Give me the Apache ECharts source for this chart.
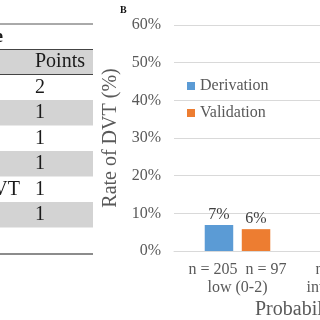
<!DOCTYPE html>
<html>
<head>
<meta charset="utf-8">
<script src="https://cdn.jsdelivr.net/npm/echarts@6/dist/echarts.min.js"></script>
<style>
	html, body { margin: 0; padding: 0; background: #fff; }
	#rate_chart { width: 320px; height: 320px; }
</style>
</head>
<body>
<div id="rate_chart"></div>
<script>
/* values */
var categories = ['low (0-2)', 'intermediate (3-6)', 'high (≥7)'];
var nDerivation = [205, 150, 60];
var nValidation = [97, 80, 30];
var rateDerivation = [6.9, null, null];
var rateValidation = [5.8, null, null];
var yTicks = [0, 10, 20, 30, 40, 50, 60];

/* table A (mostly cut off on the left) */
var tableTitle = 'Wells score';
var tableHeader = 'Points';
var tableRowLabels = ['', '', '', '', 'Previous DVT', ''];
var tablePoints = [2, 1, 1, 1, 1, 1];

(function(){
	var serif = 'Liberation Serif';
	var myChart = echarts.init(document.getElementById('rate_chart'));

	// table drawn with graphic elements
	var g = [];
	var rowTop = 74.5, rowH = 25.5;
	g.push({type:'rect', shape:{x:-5, y:50, width:98, height:24.5}, style:{fill:'#d3d3d3'}, silent:true});
	for (var i = 0; i < tablePoints.length; i++) {
		var y0 = rowTop + i * rowH;
		if (i % 2 === 1) {
			g.push({type:'rect', shape:{x:-5, y:y0, width:98, height:rowH}, style:{fill:'#d3d3d3'}, silent:true});
		}
		g.push({type:'text', x:40, y:y0 + rowH / 2, style:{text:String(tablePoints[i]), font:'20px ' + serif, fill:'#1a1a1a', align:'center', verticalAlign:'middle'}});
		if (tableRowLabels[i]) {
			g.push({type:'text', x:20, y:y0 + rowH / 2, style:{text:tableRowLabels[i], font:'20px ' + serif, fill:'#1a1a1a', align:'right', verticalAlign:'middle'}});
		}
	}
	g.push({type:'text', x:3, y:37, style:{text:tableTitle, font:'bold 18px ' + serif, fill:'#1a1a1a', align:'right', verticalAlign:'middle'}});
	g.push({type:'text', x:35, y:62, style:{text:tableHeader, font:'20px ' + serif, fill:'#1a1a1a', align:'left', verticalAlign:'middle'}});
	g.push({type:'line', shape:{x1:-5, y1:24, x2:93, y2:24}, style:{stroke:'#555', lineWidth:1}});
	g.push({type:'line', shape:{x1:-5, y1:49.5, x2:93, y2:49.5}, style:{stroke:'#444', lineWidth:1}});
	g.push({type:'line', shape:{x1:-5, y1:74.5, x2:93, y2:74.5}, style:{stroke:'#444', lineWidth:1}});
	g.push({type:'line', shape:{x1:-5, y1:254, x2:93, y2:254}, style:{stroke:'#666', lineWidth:1.5}});

	var option = {
		animation: false,
		title: [
			{
				text: 'B',
				left: 115, top: 0,
				textStyle: {fontFamily: serif, fontSize: 10, fontWeight: 'bold', color: '#111'}
			},
			{
				text: 'Probability of DVT',
				left: 250, top: 295,
				textStyle: {fontFamily: serif, fontSize: 20, fontWeight: 'normal', color: '#595959'}
			}
		],
		legend: {
			orient: 'vertical',
			left: 182, top: 73,
			itemWidth: 8, itemHeight: 8,
			itemGap: 11,
			icon: 'rect',
			textStyle: {fontFamily: serif, fontSize: 16, color: '#595959'},
			data: ['Derivation', 'Validation']
		},
		grid: {
			left: 174, top: 25,
			width: 381, height: 226,
			containLabel: false,
			outerBoundsMode: 'none'
		},
		graphic: g,
		xAxis: [
			{
				type: 'category',
				data: categories,
				axisLine: {lineStyle: {color: '#d9d9d9'}},
				axisTick: {show: false},
				axisLabel: {
					interval: 0,
					margin: 10,
					fontFamily: serif,
					fontSize: 16,
					lineHeight: 18,
					color: '#595959',
					formatter: function(v, idx){
						return 'n = ' + nDerivation[idx] + '  n = ' + nValidation[idx] + '\n' + v;
					}
				}
			}
		],
		yAxis: [
			{
				type: 'value',
				min: yTicks[0],
				max: yTicks[yTicks.length - 1],
				interval: 10,
				name: 'Rate of DVT (%)',
				nameLocation: 'middle',
				nameGap: 52,
				nameTextStyle: {fontFamily: serif, fontSize: 20, color: '#595959'},
				axisLine: {show: false},
				axisTick: {show: false},
				splitLine: {lineStyle: {color: '#d9d9d9'}},
				axisLabel: {
					margin: 13,
					fontFamily: serif,
					fontSize: 16,
					color: '#595959',
					formatter: '{value}%'
				}
			}
		],
		series: [
			{
				name: 'Derivation',
				type: 'bar',
				barWidth: 28.5,
				barGap: '30%',
				itemStyle: {color: '#5b9bd5'},
				label: {
					show: true, position: 'top', distance: 2,
					fontFamily: serif, fontSize: 16, color: '#404040',
					formatter: function(p){ return Math.round(p.value) + '%'; }
				},
				data: rateDerivation
			},
			{
				name: 'Validation',
				type: 'bar',
				barWidth: 28.5,
				itemStyle: {color: '#ed7d31'},
				label: {
					show: true, position: 'top', distance: 2,
					fontFamily: serif, fontSize: 16, color: '#404040',
					formatter: function(p){ return Math.round(p.value) + '%'; }
				},
				data: rateValidation
			}
		]
	};
	myChart.setOption(option);
})();
</script>
</body>
</html>
